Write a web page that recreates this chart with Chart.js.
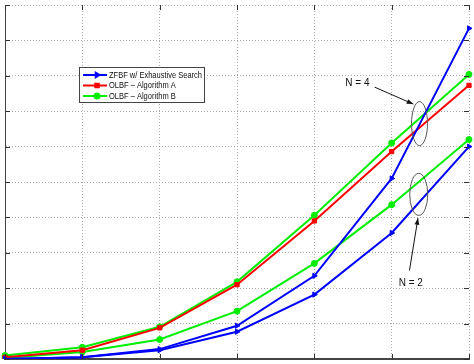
<!DOCTYPE html>
<html>
<head>
<meta charset="utf-8">
<script src="https://cdn.jsdelivr.net/npm/chart.js@4"></script>
<style>
  html, body { margin: 0; padding: 0; background: #fff; }
  #wrap { width: 474px; height: 364px; }
</style>
</head>
<body>
<div id="wrap"><canvas id="myChart"></canvas></div>
<script>
// x positions (tick labels are cropped out of the reference)
const xLabels = ["0", "1", "2", "3", "4", "5", "6"];
const yTicks = [0, 1, 2, 3, 4, 5, 6, 7, 8, 9, 10];

// N = 4
const zfbfN4 = [0.0, 0.05, 0.28, 0.94, 2.35, 5.1, 9.34];
const olbfAN4 = [0.05, 0.25, 0.88, 2.1, 3.9, 5.86, 7.73];
const olbfBN4 = [0.1, 0.33, 0.91, 2.18, 4.06, 6.1, 8.04];
// N = 2
const zfbfN2 = [0.0, 0.05, 0.25, 0.77, 1.82, 3.56, 6.0];
const olbfBN2 = [0.03, 0.2, 0.55, 1.35, 2.7, 4.36, 6.2];

const legendNames = ["ZFBF w/ Exhaustive Search", "OLBF \u2013 Algorithm A", "OLBF \u2013 Algorithm B"];

function series(label, data, color, style, rot) {
  return {
    label: label,
    data: data,
    borderColor: color,
    backgroundColor: color,
    borderWidth: 2,
    pointStyle: style,
    pointRadius: 3,
    pointRotation: rot || 0,
    pointBorderWidth: 1,
    tension: 0,
    fill: false,
  };
}

const datasets = [
  series(legendNames[0], zfbfN4, "#0000ff", "triangle", 90),
  series("zfbf2", zfbfN2, "#0000ff", "triangle", 90),
  series(legendNames[1], olbfAN4, "#ff0000", "rect"),
  series(legendNames[2], olbfBN4, "#00ee00", "circle"),
  series("olbfB2", olbfBN2, "#00ee00", "circle"),
];

// ellipses, arrows, text labels and the boxed legend
const extras = {
  id: "extras",
  afterDraw(chart) {
    let ctx = chart.ctx;
    let xs = chart.scales.x;
    let ys = chart.scales.y;
    let area = chart.chartArea;

    // inward tick marks like matlab
    ctx.save();
    ctx.strokeStyle = "#333";
    ctx.lineWidth = 1;
    ctx.beginPath();
    yTicks.forEach(v => {
      let y = Math.round(ys.getPixelForValue(v)) + 0.5;
      ctx.moveTo(area.left, y); ctx.lineTo(area.left + 5, y);
      ctx.moveTo(area.right, y); ctx.lineTo(area.right - 5, y);
    });
    xLabels.forEach((l, i) => {
      let x = Math.round(xs.getPixelForValue(i)) + 0.5;
      ctx.moveTo(x, area.bottom); ctx.lineTo(x, area.bottom - 5);
      ctx.moveTo(x, area.top); ctx.lineTo(x, area.top + 5);
    });
    ctx.stroke();

    // ellipses
    ctx.strokeStyle = "#555";
    ctx.lineWidth = 1;
    function ell(xv, yv, rx, ry) {
      ctx.beginPath();
      ctx.ellipse(xs.getPixelForValue(xv), ys.getPixelForValue(yv), rx, ry, 0, 0, Math.PI * 2);
      ctx.stroke();
    }
    ell(5.36, 6.65, 8, 22);
    ell(5.35, 4.65, 9, 21);

    // arrows
    ctx.strokeStyle = "#111";
    ctx.fillStyle = "#111";
    function arrow(x1, y1, x2, y2) {
      let a = Math.atan2(y2 - y1, x2 - x1);
      ctx.beginPath();
      ctx.moveTo(x1, y1); ctx.lineTo(x2, y2);
      ctx.stroke();
      ctx.beginPath();
      ctx.moveTo(x2, y2);
      ctx.lineTo(x2 - 7 * Math.cos(a - 0.35), y2 - 7 * Math.sin(a - 0.35));
      ctx.lineTo(x2 - 7 * Math.cos(a + 0.35), y2 - 7 * Math.sin(a + 0.35));
      ctx.closePath();
      ctx.fill();
    }
    arrow(xs.getPixelForValue(4.78), ys.getPixelForValue(7.68), xs.getPixelForValue(5.28), ys.getPixelForValue(7.2));
    arrow(xs.getPixelForValue(5.23), ys.getPixelForValue(2.5), xs.getPixelForValue(5.34), ys.getPixelForValue(3.98));

    ctx.font = "10px 'Liberation Sans', Arial, sans-serif";
    ctx.textBaseline = "middle";
    ctx.fillText("N = 4", xs.getPixelForValue(4.4), ys.getPixelForValue(7.78));
    ctx.fillText("N = 2", xs.getPixelForValue(5.09), ys.getPixelForValue(2.13));

    // legend box
    let lx = 79.5, ly = 67.5, lw = 125, lh = 35;
    ctx.fillStyle = "#fff";
    ctx.fillRect(lx, ly, lw, lh);
    ctx.strokeStyle = "#444";
    ctx.strokeRect(lx, ly, lw, lh);
    ctx.font = "9px 'Liberation Sans', Arial, sans-serif";
    // squeeze the text so the longest label fits like the original
    let squeeze = 93 / ctx.measureText(legendNames[0]).width;
    [0, 2, 3].forEach((di, k) => {
      let ds = chart.data.datasets[di];
      let y = 75 + k * 10.5;
      ctx.strokeStyle = ds.borderColor;
      ctx.lineWidth = 2;
      ctx.beginPath();
      ctx.moveTo(83, y); ctx.lineTo(107, y);
      ctx.stroke();
      ctx.fillStyle = ds.backgroundColor;
      Chart.helpers.drawPoint(ctx, {
        pointStyle: ds.pointStyle, rotation: ds.pointRotation, radius: 2.5, borderWidth: 1
      }, 97, y);
      ctx.fillStyle = "#111";
      ctx.save();
      ctx.translate(109, y + 0.5);
      ctx.scale(squeeze, 1);
      ctx.fillText(ds.label, 0, 0);
      ctx.restore();
    });
    ctx.restore();
  },
};

let chartCtx = document.getElementById("myChart").getContext("2d");
let myChart = new Chart(chartCtx, {
  type: "line",
  data: { labels: xLabels, datasets: datasets },
  options: {
    responsive: true,
    maintainAspectRatio: false,
    animation: false,
    layout: { padding: { left: 2, right: 3, top: 0, bottom: 1 } },
    plugins: { legend: { display: false }, tooltip: { enabled: false } },
    scales: {
      x: {
        type: "category",
        offset: false,
        ticks: { display: false },
        grid: { color: "#aaa", drawTicks: false, tickLength: 0 },
        border: { display: true, color: "#444", width: 2, dash: [1, 2] },
      },
      y: {
        min: 0,
        max: 10,
        afterBuildTicks: axis => { axis.ticks = yTicks.map(v => ({ value: v })); },
        ticks: { display: false },
        grid: { color: "#aaa", drawTicks: false, tickLength: 0 },
        border: { display: true, color: "#444", width: 1, dash: [1, 2] },
      },
    },
  },
  plugins: [extras],
});
</script>
</body>
</html>
